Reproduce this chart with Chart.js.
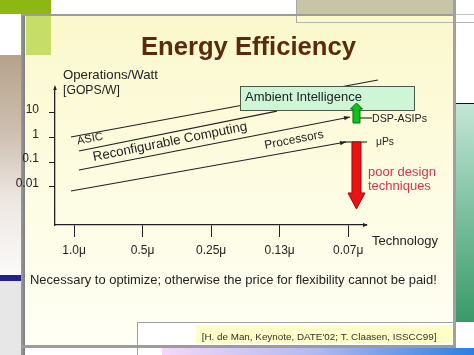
<!DOCTYPE html>
<html><head><meta charset="utf-8">
<script src="https://cdn.jsdelivr.net/npm/chart.js@4"></script>
<style>
body{margin:0;background:#fff}
#wrap{position:relative;width:474px;height:355px;overflow:hidden;background:#fff}
.d{position:absolute}
canvas{position:absolute;left:0;top:0}
</style></head><body>
<div id="wrap">
 <div class="d" style="left:0;top:0;width:51px;height:14px;background:#8db814"></div>
 <div class="d" style="left:297px;top:0;width:156px;height:14px;background:#c8c4a6"></div>
 <div class="d" style="left:25px;top:16px;width:428px;height:329px;background:linear-gradient(#fbf8cc,#fdfce2 50%,#fffff4)"></div>
 <div class="d" style="left:296px;top:0;width:1px;height:23px;background:#a8a8a8"></div>
 <div class="d" style="left:297px;top:22px;width:177px;height:1px;background:#b4b4b4"></div>
 <div class="d" style="left:456px;top:14px;width:18px;height:1px;background:#c0c0c0"></div>
 <div class="d" style="left:26px;top:16px;width:25px;height:39px;background:#c6dd68"></div>
 <div class="d" style="left:0;top:55px;width:22px;height:219px;background:linear-gradient(#b6a28c,#cdbfb0 35%,#ece6e0 65%,#fbfafa)"></div>
 <div class="d" style="left:0;top:275px;width:22px;height:6px;background:#22228c"></div>
 <div class="d" style="left:0;top:281px;width:22px;height:74px;background:#e7e7e7"></div>
 <div class="d" style="left:21px;top:14px;width:4px;height:341px;background:linear-gradient(90deg,#9a9a9a,#7e7e7e)"></div>
 <div class="d" style="left:21px;top:14px;width:434px;height:2px;background:#9c9c9c"></div>
 <div class="d" style="left:453px;top:0;width:3px;height:348px;background:#a0a0a0"></div>
 <div class="d" style="left:456px;top:103px;width:18px;height:1px;background:#111"></div>
 <div class="d" style="left:456px;top:104px;width:18px;height:218px;background:linear-gradient(#c4e6d6,#7cc0a0 50%,#3a9a68)"></div>
 <div class="d" style="left:138px;top:322px;width:315px;height:23px;background:#fff;border-top:1px solid #a0a0a0"></div>
 <div class="d" style="left:196px;top:325px;width:257px;height:18px;background:#fefec8"></div>
 <div class="d" style="left:137px;top:322px;width:1px;height:33px;background:#a0a0a0"></div>
 <div class="d" style="left:22px;top:345px;width:434px;height:3px;background:#9c9c9c"></div>
 <div class="d" style="left:162px;top:348px;width:312px;height:7px;background:linear-gradient(90deg,#f4d8f8,#b0b8f0 50%,#2c7ee2)"></div>
 <canvas id="c" width="474" height="355"></canvas>
</div>
<script>
const FONT = "'Liberation Sans', Arial, sans-serif";
// x axis: technology nodes (index positions on a linear axis)
const techLabels = ['1.0μ','0.5μ','0.25μ','0.13μ','0.07μ'];
const techPos = [0,1,2,3,4];
// y axis: Operations/Watt [GOPS/W], log scale
const yTickValues = [0.01,0.1,1,10];
const yTickLabels = ['0.01','0.1','1','10'];
// boundary lines (x in technology-node units, y in GOPS/W)
const asicTopX = [-0.045, 4.435];     const asicTopY = [1.04, 210];
const asicReconX = [0.072, 2.961];    const asicReconY = [0.283, 11.7];
const reconProcX = [0.072, 4.027];    const reconProcY = [0.0483, 6.71];
const procBottomX = [-0.045, 3.968];  const procBottomY = [0.00684, 0.655];
// annotation anchors (data coordinates)
const ambientBoxX = [2.421, 4.961];   const ambientBoxY = [12.9, 120.5];
const ambientTextAt = [2.494, 29.8];
const upArrowX = 4.121;               const upArrowY = [3.85, 24.7];
const downArrowX = 4.121;             const downArrowY = [0.655, 0.00128];
const dspLeaderX = [4.107, 4.348];    const dspLeaderY = 6.12;
const dspTextAt = [4.348, 4.03];
const upsLeaderX = [3.925, 4.275];    const upsLeaderY = 0.655;
const upsTextAt = [4.406, 0.495];
const poorTextAt = [4.289, 0.0277];   const techTextAt = [4.289, 0.0075];
const asicLabelAt = [0.233, 0.867];
const reconLabelAt = [1.400, 0.655];
const procLabelAt = [3.209, 0.789];

const pts = (xs, ys) => xs.map((x,i)=>({x, y: ys[i]}));
const INK = '#222222';

function fit(ctx, text, target, weight){
  ctx.font = `${weight} 100px ${FONT}`;
  const w = ctx.measureText(text).width;
  const s = 100*target/w;
  ctx.font = `${weight} ${s}px ${FONT}`;
  return s;
}
function arrowHead(ctx, x0, y0, x1, y1, len, hw){
  const a = Math.atan2(y1-y0, x1-x0);
  ctx.save(); ctx.translate(x1,y1); ctx.rotate(a);
  ctx.beginPath(); ctx.moveTo(0,0); ctx.lineTo(-len,-hw); ctx.lineTo(-len,hw); ctx.closePath();
  ctx.fillStyle = INK; ctx.fill(); ctx.restore();
}
function blockArrow(ctx, cx, yBase, yTip, shaftW, headW, headL, fill, stroke){
  const dir = Math.sign(yTip - yBase);
  const yHead = yTip - dir*headL;
  ctx.beginPath();
  ctx.moveTo(cx-shaftW/2, yBase);
  ctx.lineTo(cx-shaftW/2, yHead);
  ctx.lineTo(cx-headW/2, yHead);
  ctx.lineTo(cx, yTip);
  ctx.lineTo(cx+headW/2, yHead);
  ctx.lineTo(cx+shaftW/2, yHead);
  ctx.lineTo(cx+shaftW/2, yBase);
  ctx.closePath();
  ctx.fillStyle = fill; ctx.fill();
  ctx.strokeStyle = stroke; ctx.lineWidth = 1; ctx.stroke();
}

const annot = {
  id: 'annot',
  afterDatasetsDraw(chart){
    const {ctx, scales:{x, y}, chartArea: ca} = chart;
    const X = v => x.getPixelForValue(v), Y = v => y.getPixelForValue(v);
    ctx.save();
    // axis arrowheads
    ctx.fillStyle = INK;
    ctx.beginPath(); ctx.moveTo(ca.left, ca.top-3); ctx.lineTo(ca.left-1.8, ca.top+2); ctx.lineTo(ca.left+1.8, ca.top+2); ctx.closePath(); ctx.fill();
    ctx.beginPath(); ctx.moveTo(ca.right+2, ca.bottom); ctx.lineTo(ca.right-3, ca.bottom-2); ctx.lineTo(ca.right-3, ca.bottom+2); ctx.closePath(); ctx.fill();
    // arrowheads at ends of the two lower lines
    [2,3].forEach(i=>{
      const m = chart.getDatasetMeta(i).data;
      const a = m[m.length-2], b = m[m.length-1];
      arrowHead(ctx, a.x, a.y, b.x, b.y, 6, 2.2);
    });
    // leader lines
    ctx.strokeStyle = INK; ctx.lineWidth = 1.1;
    ctx.beginPath(); ctx.moveTo(X(dspLeaderX[0]), Y(dspLeaderY)); ctx.lineTo(X(dspLeaderX[1]), Y(dspLeaderY)); ctx.stroke();
    ctx.beginPath(); ctx.moveTo(X(upsLeaderX[0]), Y(upsLeaderY)); ctx.lineTo(X(upsLeaderX[1]), Y(upsLeaderY)); ctx.stroke();
    // Ambient Intelligence box
    const bx0 = X(ambientBoxX[0]), bx1 = X(ambientBoxX[1]), by0 = Y(ambientBoxY[1]), by1 = Y(ambientBoxY[0]);
    ctx.fillStyle = '#cdf5d6'; ctx.fillRect(bx0, by0, bx1-bx0, by1-by0);
    ctx.strokeStyle = '#4a5a4a'; ctx.lineWidth = 1; ctx.strokeRect(Math.round(bx0)+0.5, Math.round(by0)+0.5, Math.round(bx1-bx0), Math.round(by1-by0));
    // block arrows
    blockArrow(ctx, X(upArrowX), Y(upArrowY[0]), Y(upArrowY[1]), 7, 12, 6, '#12c21c', '#0a6a10');
    blockArrow(ctx, X(downArrowX), Y(downArrowY[0]), Y(downArrowY[1]), 9, 17, 16, '#ea1212', '#a80000');
    // labels
    ctx.fillStyle = INK; ctx.textBaseline = 'alphabetic'; ctx.textAlign = 'left';
    fit(ctx, 'Ambient Intelligence', 117, 'normal'); ctx.fillText('Ambient Intelligence', X(ambientTextAt[0]), Y(ambientTextAt[1]));
    fit(ctx, 'DSP-ASIPs', 55, 'normal'); ctx.fillText('DSP-ASIPs', X(dspTextAt[0]), Y(dspTextAt[1]));
    fit(ctx, 'μPs', 18, 'normal'); ctx.fillText('μPs', X(upsTextAt[0]), Y(upsTextAt[1]));
    ctx.fillStyle = '#d6334a';
    fit(ctx, 'poor design', 68, 'normal');
    ctx.fillText('poor design', X(poorTextAt[0]), Y(poorTextAt[1]));
    ctx.fillText('techniques', X(techTextAt[0]), Y(techTextAt[1]));
    // rotated region labels
    ctx.fillStyle = INK; ctx.textAlign = 'center'; ctx.textBaseline = 'middle';
    const rot = (i, text, at, w) => {
      const m = chart.getDatasetMeta(i).data;
      const ang = Math.atan2(m[1].y-m[0].y, m[1].x-m[0].x);
      ctx.save(); ctx.translate(X(at[0]), Y(at[1])); ctx.rotate(ang);
      fit(ctx, text, w, 'normal'); ctx.fillText(text, 0, 0); ctx.restore();
    };
    rot(0, 'ASIC', asicLabelAt, 26);
    rot(1, 'Reconfigurable Computing', reconLabelAt, 157);
    rot(2, 'Processors', procLabelAt, 60);
    ctx.restore();
  },
  afterDraw(chart){
    const ctx = chart.ctx;
    ctx.save();
    ctx.textBaseline = 'alphabetic';
    ctx.fillStyle = '#5b2a0c'; ctx.textAlign = 'center';
    fit(ctx, 'Energy Efficiency', 215, 'bold'); ctx.fillText('Energy Efficiency', 248.5, 54.5);
    ctx.fillStyle = INK; ctx.textAlign = 'left';
    fit(ctx, 'Operations/Watt', 95, 'normal'); ctx.fillText('Operations/Watt', 63, 79);
    fit(ctx, '[GOPS/W]', 57, 'normal'); ctx.fillText('[GOPS/W]', 63, 93.5);
    fit(ctx, 'Technology', 66, 'normal'); ctx.fillText('Technology', 372, 244.5);
    const s = 'Necessary to optimize; otherwise the price for flexibility cannot be paid!';
    fit(ctx, s, 407, 'normal'); ctx.fillText(s, 30, 283.5);
    ctx.fillStyle = '#303030';
    const c = "[H. de Man, Keynote, DATE'02; T. Claasen, ISSCC99]";
    fit(ctx, c, 235, 'normal'); ctx.fillText(c, 201.7, 340);
    ctx.restore();
  }
};

new Chart(document.getElementById('c'), {
  type: 'line',
  data: { datasets: [
    { data: pts(asicTopX, asicTopY) },
    { data: pts(asicReconX, asicReconY) },
    { data: pts(reconProcX, reconProcY) },
    { data: pts(procBottomX, procBottomY) }
  ]},
  options: {
    responsive: false, animation: false, devicePixelRatio: 1,
    layout: { padding: { left: 0, top: 88, right: 108, bottom: 0 } },
    plugins: { legend: { display: false }, tooltip: { enabled: false }, title: { display: false } },
    datasets: { line: { clip: false } },
    elements: { point: { radius: 0 }, line: { borderWidth: 1.2, borderColor: INK, tension: 0, fill: false } },
    scales: {
      x: {
        type: 'linear', min: -0.278, max: 4.26,
        afterBuildTicks: s => { s.ticks = techPos.map(v => ({ value: v })); },
        afterFit: s => { s.height = 130; },
        ticks: { callback: v => techLabels[techPos.indexOf(v)], color: INK, font: { family: FONT, size: 12 }, padding: 6, maxRotation: 0, autoSkip: false },
        grid: { drawOnChartArea: false, drawTicks: true, tickLength: 12, color: INK, lineWidth: 1 },
        border: { display: true, color: INK, width: 1.3 }
      },
      y: {
        type: 'logarithmic', min: 2.88e-4, max: 100,
        afterBuildTicks: s => { s.ticks = yTickValues.map(v => ({ value: v })); },
        afterFit: s => { s.width = 55; },
        ticks: { callback: v => yTickLabels[yTickValues.indexOf(v)], color: INK, font: { family: FONT, size: 12 }, padding: 10, labelOffset: -3, autoSkip: false },
        grid: { drawOnChartArea: false, drawTicks: true, tickLength: 6, color: INK, lineWidth: 1 },
        border: { display: true, color: INK, width: 1.3 }
      }
    }
  },
  plugins: [annot]
});
</script>
</body></html>
